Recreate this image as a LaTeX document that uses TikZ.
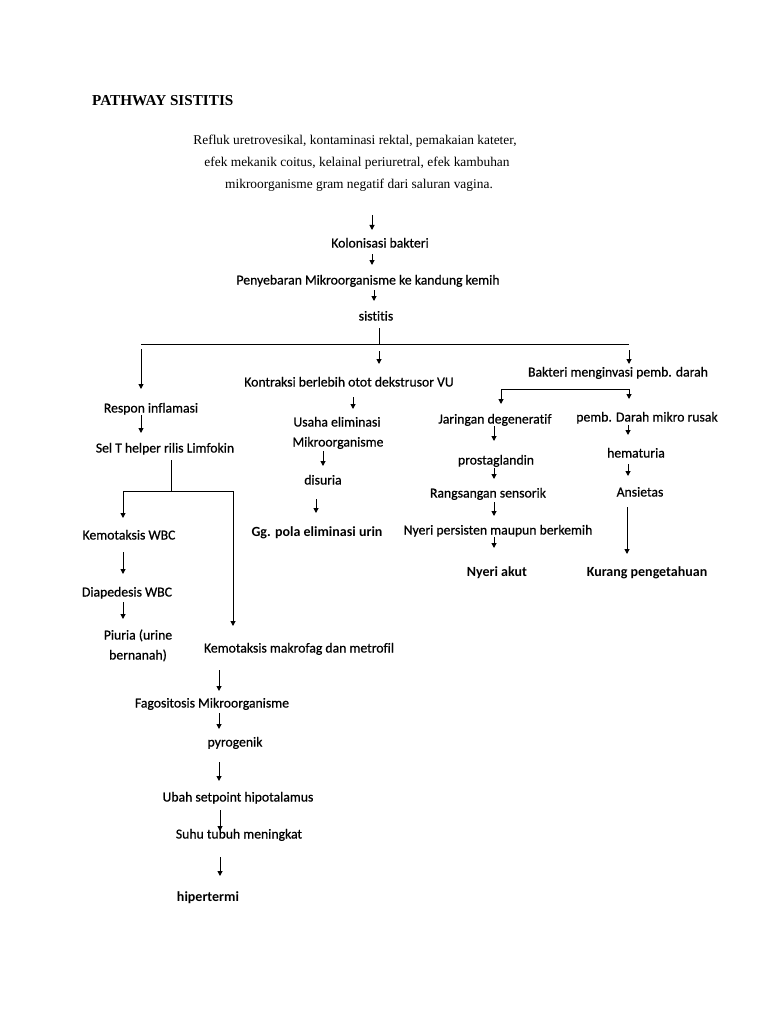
\documentclass[tikz,border=0pt]{standalone}
\usepackage{fontspec}
\setmainfont{Carlito}[Ligatures=NoCommon, FakeBold=0.6, BoldFeatures={FakeBold=0}]
\newfontfamily\seriffont{Liberation Serif}[Ligatures=NoCommon]
\usetikzlibrary{arrows.meta}
\tikzset{
  txt/.style={inner sep=0pt, text height=9pt, text depth=0pt, font=\fontsize{13.7}{16}\selectfont},
  btxt/.style={inner sep=0pt, text height=9.5pt, text depth=0pt, font=\fontsize{14}{16}\selectfont\bfseries},
  stxt/.style={inner sep=0pt, text height=9pt, text depth=0pt, font=\fontsize{13.4}{16}\selectfont\seriffont},
  arr/.style={-{Triangle[length=5pt,width=5pt]}, line width=1pt},
  ln/.style={line width=1pt}
}
\begin{document}
\begin{tikzpicture}[x=1pt,y=-1pt]
\useasboundingbox[fill=white] (0,0) rectangle (768,1024);
% title and cause
\node[stxt, font=\fontsize{15.2}{16}\selectfont\seriffont\bfseries, anchor=west] (title) at (92,101) {PATHWAY SISTITIS};
\node[stxt] (p1) at (355,140) {Refluk uretrovesikal, kontaminasi rektal, pemakaian kateter,};
\node[stxt] (p2) at (357,162) {efek mekanik coitus, kelainal periuretral, efek kambuhan};
\node[stxt] (p3) at (359,184) {mikroorganisme gram negatif dari saluran vagina.};
% main chain
\node[txt] (kol) at (380,243) {Kolonisasi bakteri};
\node[txt] (pen) at (368,280) {Penyebaran Mikroorganisme ke kandung kemih};
\node[txt] (sis) at (376,316) {sistitis};
\coordinate (br) at (379,344);
\coordinate (brL) at (141,344);
\coordinate (brR) at (629,344);
% middle branch
\node[txt] (kon) at (349,382) {Kontraksi berlebih otot dekstrusor VU};
\node[txt] (usa1) at (337,422) {Usaha eliminasi};
\node[txt] (usa2) at (338,442) {Mikroorganisme};
\node[txt] (dis) at (323,480) {disuria};
\node[btxt] (gg) at (317,532) {Gg. pola eliminasi urin};
% right branch
\node[txt] (bak) at (618,372) {Bakteri menginvasi pemb. darah};
\coordinate (b2L) at (501,389);
\coordinate (b2R) at (629,389);
\node[txt] (jar) at (495,419) {Jaringan degeneratif};
\node[txt] (pdm) at (647,417) {pemb. Darah mikro rusak};
\node[txt] (pro) at (496,460) {prostaglandin};
\node[txt] (hem) at (636,453) {hematuria};
\node[txt] (ran) at (488,493) {Rangsangan sensorik};
\node[txt] (ans) at (640,492) {Ansietas};
\node[txt] (nye) at (498,530) {Nyeri persisten maupun berkemih};
\node[btxt] (akut) at (497,572) {Nyeri akut};
\node[btxt] (kur) at (647,572) {Kurang pengetahuan};
% left branch
\node[txt] (res) at (151,408) {Respon inflamasi};
\node[txt] (sel) at (165,448) {Sel T helper rilis Limfokin};
\coordinate (b3) at (171,491);
\coordinate (b3L) at (123,491);
\coordinate (b3R) at (233,491);
\node[txt] (kwbc) at (129,535) {Kemotaksis WBC};
\node[txt] (dwbc) at (127,592) {Diapedesis WBC};
\node[txt] (piu1) at (138,635) {Piuria (urine};
\node[txt] (piu2) at (138,655) {bernanah)};
\node[txt] (kmak) at (299,648) {Kemotaksis makrofag dan metrofil};
\node[txt] (fag) at (212,703) {Fagositosis Mikroorganisme};
\node[txt] (pyr) at (235,742) {pyrogenik};
\node[txt] (ubah) at (238,797) {Ubah setpoint hipotalamus};
\node[txt] (suhu) at (239,834) {Suhu tubuh meningkat};
\node[btxt] (hip) at (208,897) {hipertermi};
% connectors: main chain
\draw[arr] (372,215) -- (372,230);
\draw[arr] (372,254) -- (372,265);
\draw[arr] (374,290) -- (374,301);
\draw[ln] (379,328) -- (br);
\draw[ln] (brL) -- (brR);
\draw[arr] (141,349) -- (141,389);
\draw[arr] (379,351) -- (379,364);
\draw[arr] (629,350) -- (629,364);
% middle
\draw[arr] (353,397) -- (353,409);
\draw[arr] (323,451) -- (323,466);
\draw[arr] (316,499) -- (316,513);
% right
\draw[ln] (b2L) -- (b2R);
\draw[arr] (b2L) -- (501,404);
\draw[arr] (b2R) -- (629,399);
\draw[arr] (494,426) -- (494,441);
\draw[arr] (628,425) -- (628,435);
\draw[arr] (494,468) -- (494,479);
\draw[arr] (628,464) -- (628,476);
\draw[arr] (494,502) -- (494,516);
\draw[arr] (627,507) -- (627,554);
\draw[arr] (494,537) -- (494,548);
% left
\draw[arr] (141,415) -- (141,433);
\draw[ln] (171,460) -- (b3);
\draw[ln] (b3L) -- (b3R);
\draw[arr] (b3L) -- (123,518);
\draw[arr] (b3R) -- (233,626);
\draw[arr] (123,552) -- (123,574);
\draw[arr] (123,602) -- (123,619);
\draw[arr] (219,670) -- (219,691);
\draw[arr] (219,713) -- (219,729);
\draw[arr] (219,762) -- (219,781);
\draw[arr] (220,810) -- (220,831);
\draw[arr] (220,857) -- (220,876);
\end{tikzpicture}
\end{document}
